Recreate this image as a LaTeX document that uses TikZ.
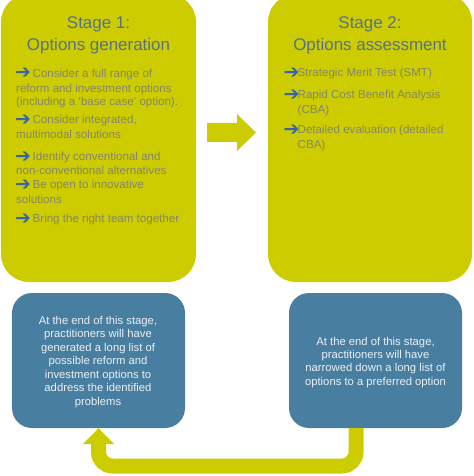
\documentclass[tikz,border=0pt]{standalone}
\usepackage{fontspec}
\setmainfont{Liberation Sans}
\newfontfamily\dejavu{DejaVu Sans}
\definecolor{yel}{RGB}{205,204,0}
\definecolor{bbox}{RGB}{72,126,160}
\definecolor{ttl}{RGB}{84,114,142}
\definecolor{btxt}{RGB}{132,134,104}
\definecolor{arr}{RGB}{55,100,170}
\definecolor{wtxt}{RGB}{236,240,244}
\begin{document}
\begin{tikzpicture}[x=1bp,y=-1bp,
 ybox/.style={fill=yel, rounded corners=28bp, inner sep=0, draw=none},
 bluebox/.style={fill=bbox, rounded corners=20bp, inner sep=0, draw=none},
 title/.style={text=ttl, font=\fontsize{17}{20}\selectfont, inner sep=0, anchor=base},
 bl/.style={text=btxt, font=\fontsize{11.6}{14}\selectfont, inner sep=0, anchor=base west},
 ar/.style={text=arr, font=\dejavu\bfseries\fontsize{19}{20}\selectfont, inner sep=0, anchor=base west, yshift=-1.5bp},
 wt/.style={text=wtxt, font=\fontsize{11.3}{14}\selectfont, inner sep=0, anchor=base},
 conn/.style={draw=yel, line width=15bp, rounded corners=14bp}
]
\useasboundingbox (0,0) rectangle (474,476);
% boxes
\node[ybox, minimum width=195bp, minimum height=288bp] (s1) at (98.5,138) {};
\node[ybox, minimum width=204bp, minimum height=288bp] (s2) at (370,138) {};
\node[bluebox, minimum width=173bp, minimum height=135bp] (b1) at (98.5,360.5) {};
\node[bluebox, minimum width=173bp, minimum height=135bp] (b2) at (375.5,360.5) {};
% middle arrow
\fill[yel] (207,123) -- (237,123) -- (237,114) -- (256,132.5) -- (237,151) -- (237,142) -- (207,142) -- cycle;
% bottom connector
\coordinate (k1) at (356,466);
\coordinate (k2) at (98.5,466);
\coordinate (h) at (98.5,443);
\draw[conn] (b2.south -| k1) -- (k1) -- (k2) -- (h);
\fill[yel] (b1.south) -- (83,444) -- (114,444) -- cycle;
% titles
\node[title] (t1a) at (98.5,29) {Stage 1:};
\node[title] (t1b) at (98.5,51) {Options generation};
\node[title] (t2a) at (370,29) {Stage 2:};
\node[title] (t2b) at (370,51) {Options assessment};
% stage 1 bullets
\node[ar] (a11) at (15,77.3) {➔};
\node[bl] (l11) at (32.5,77.3) {Consider a full range of};
\node[bl] (l12) at (16,92.3) {reform and investment options};
\node[bl] (l13) at (16,105.7) {(including a ‘base case’ option).};
\node[ar] (a12) at (15,124) {➔};
\node[bl] (l14) at (32.5,124) {Consider integrated,};
\node[bl] (l15) at (16,139) {multimodal solutions};
\node[ar] (a13) at (15,160.7) {➔};
\node[bl] (l16) at (32.5,160.7) {Identify conventional and};
\node[bl] (l17) at (16,175) {non-conventional alternatives};
\node[ar] (a14) at (15,189) {➔};
\node[bl] (l18) at (32.5,189) {Be open to innovative};
\node[bl] (l19) at (16,203.3) {solutions};
\node[ar] (a15) at (15,223) {➔};
\node[bl] (l110) at (32.5,223) {Bring the right team together};
% stage 2 bullets
\node[ar] (a21) at (283.5,77) {➔};
\node[bl] (l21) at (297.5,77) {Strategic Merit Test (SMT)};
\node[ar] (a22) at (283.5,99) {➔};
\node[bl] (l22) at (297.5,99) {Rapid Cost Benefit Analysis};
\node[bl] (l23) at (297.5,114) {(CBA)};
\node[ar] (a23) at (283.5,134) {➔};
\node[bl] (l24) at (297.5,134) {Detailed evaluation (detailed};
\node[bl] (l25) at (297.5,149) {CBA)};
% blue box texts
\node[wt] (w11) at (98,324) {At the end of this stage,};
\node[wt] (w12) at (98,337.5) {practitioners will have};
\node[wt] (w13) at (98,351) {generated a long list of};
\node[wt] (w14) at (98,364.5) {possible reform and};
\node[wt] (w15) at (98,378) {investment options to};
\node[wt] (w16) at (98,391.5) {address the identified};
\node[wt] (w17) at (98,405) {problems};
\node[wt] (w21) at (375.5,345) {At the end of this stage,};
\node[wt] (w22) at (375.5,358.3) {practitioners will have};
\node[wt] (w23) at (375.5,371.7) {narrowed down a long list of};
\node[wt] (w24) at (375.5,385) {options to a preferred option};
\end{tikzpicture}
\end{document}
